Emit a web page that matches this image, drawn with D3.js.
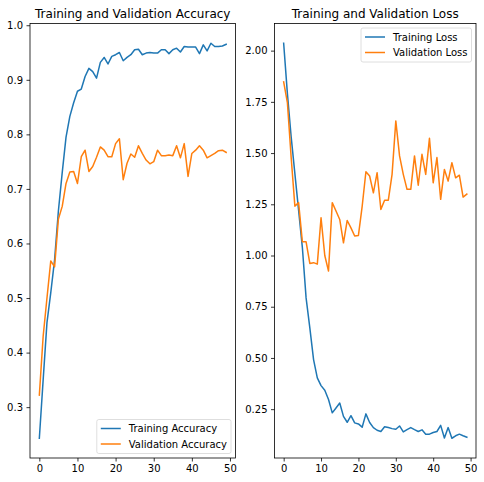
<!DOCTYPE html>
<html>
<head>
<meta charset="utf-8">
<script src="https://cdn.jsdelivr.net/npm/d3@7"></script>
<style>
  body { margin: 0; background: #fff; }
  svg text { font-family: "DejaVu Sans", sans-serif; fill: #000; }
</style>
</head>
<body>
<div id="graphicContainer"></div>
<script>

// values, one per epoch
var trainAcc = [0.243, 0.35, 0.455, 0.51, 0.57, 0.66, 0.73, 0.795, 0.833, 0.858,
  0.879, 0.883, 0.906, 0.921, 0.915, 0.903, 0.932, 0.941, 0.929, 0.943,
  0.946, 0.950, 0.935, 0.941, 0.946, 0.955, 0.956, 0.946, 0.949, 0.950,
  0.949, 0.949, 0.955, 0.955, 0.948, 0.955, 0.958, 0.951, 0.961, 0.960,
  0.960, 0.960, 0.948, 0.964, 0.953, 0.967, 0.961, 0.961, 0.962, 0.965]

var valAcc = [0.322, 0.43, 0.50, 0.568, 0.557, 0.645, 0.668, 0.71, 0.731, 0.732,
  0.71, 0.759, 0.771, 0.732, 0.741, 0.758, 0.777, 0.771, 0.759, 0.759,
  0.783, 0.792, 0.717, 0.747, 0.764, 0.758, 0.779, 0.765, 0.753, 0.746,
  0.75, 0.771, 0.761, 0.761, 0.762, 0.761, 0.779, 0.757, 0.783, 0.723,
  0.765, 0.771, 0.779, 0.771, 0.757, 0.761, 0.765, 0.77, 0.771, 0.767]

var trainLoss = [2.036, 1.79, 1.58, 1.40, 1.22, 1.04, 0.793, 0.647, 0.492, 0.403,
  0.365, 0.342, 0.297, 0.232, 0.256, 0.28, 0.215, 0.186, 0.218, 0.183,
  0.178, 0.162, 0.227, 0.185, 0.16, 0.147, 0.141, 0.164, 0.16, 0.155,
  0.152, 0.168, 0.139, 0.15, 0.16, 0.15, 0.141, 0.149, 0.128, 0.128,
  0.136, 0.141, 0.171, 0.109, 0.16, 0.108, 0.12, 0.128, 0.12, 0.113]

var valLoss = [1.847, 1.746, 1.48, 1.241, 1.258, 1.067, 1.067, 0.961, 0.965, 0.958,
  1.184, 1.0, 0.924, 1.258, 1.217, 1.176, 1.062, 1.171, 1.135, 1.095,
  1.098, 1.24, 1.409, 1.388, 1.306, 1.404, 1.225, 1.27, 1.27, 1.396,
  1.657, 1.486, 1.396, 1.323, 1.323, 1.486, 1.343, 1.494, 1.396, 1.572,
  1.355, 1.478, 1.274, 1.42, 1.363, 1.453, 1.379, 1.392, 1.285, 1.30]

var xTicks = [0, 10, 20, 30, 40, 50]
var accTicks = [0.3, 0.4, 0.5, 0.6, 0.7, 0.8, 0.9, 1.0]
var lossTicks = [0.25, 0.5, 0.75, 1.0, 1.25, 1.5, 1.75, 2.0]

var accLabels = ["Training Accuracy", "Validation Accuracy"]
var lossLabels = ["Training Loss", "Validation Loss"]
var colours = ["#1f77b4", "#ff7f0e"]

var width = 484
var height = 482
var fs = 10

var svg = d3.select("#graphicContainer").append("svg")
  .attr("width", width)
  .attr("height", height)

// matplotlib style 5% padding around the data
function padded(values) {
  var lo = d3.min(values), hi = d3.max(values)
  var p = (hi - lo) * 0.05
  return [lo - p, hi + p]
}

function panel(box, title, series, labels, yTicks, yFmt, legendPos) {

  var g = svg.append("g")

  var n = series[0].length
  var epochs = d3.range(n)

  var x = d3.scaleLinear()
    .domain(padded(epochs))
    .range([box.left, box.right])

  var y = d3.scaleLinear()
    .domain(padded(series[0].concat(series[1])))
    .range([box.bottom, box.top])

  var xAxis = d3.axisBottom(x).tickValues(xTicks).tickSize(3.5).tickPadding(3.5).tickFormat(d3.format("d"))
  var yAxis = d3.axisLeft(y).tickValues(yTicks).tickSize(3.5).tickPadding(3.5).tickFormat(d3.format(yFmt))

  g.append("g")
    .attr("transform", `translate(0,${box.bottom})`)
    .call(xAxis)
    .call(a => a.select(".domain").remove())
    .call(a => a.selectAll("line").attr("stroke", "#000").attr("stroke-width", 0.8))
    .call(a => a.selectAll("text").attr("font-size", fs))

  g.append("g")
    .attr("transform", `translate(${box.left},0)`)
    .call(yAxis)
    .call(a => a.select(".domain").remove())
    .call(a => a.selectAll("line").attr("stroke", "#000").attr("stroke-width", 0.8))
    .call(a => a.selectAll("text").attr("font-size", fs))

  var line = d3.line()
    .x((d, i) => x(i))
    .y(d => y(d))

  series.forEach(function (s, k) {
    g.append("path")
      .datum(s)
      .attr("fill", "none")
      .attr("stroke", colours[k])
      .attr("stroke-width", 1.5)
      .attr("stroke-linejoin", "round")
      .attr("stroke-linecap", "square")
      .attr("d", line)
  })

  g.append("rect")
    .attr("x", box.left)
    .attr("y", box.top)
    .attr("width", box.right - box.left)
    .attr("height", box.bottom - box.top)
    .attr("fill", "none")
    .attr("stroke", "#000")
    .attr("stroke-width", 0.8)

  g.append("text")
    .attr("x", (box.left + box.right) / 2)
    .attr("y", box.top - 6)
    .attr("text-anchor", "middle")
    .attr("font-size", 12)
    .text(title)

  // legend
  var leg = g.append("g")
  var frame = leg.append("rect")
  var texts = labels.map(function (l, k) {
    return leg.append("text")
      .attr("font-size", fs)
      .attr("dy", "0.35em")
      .text(l)
  })
  var tw = d3.max(texts, t => t.node().getComputedTextLength())
  var pad = 4, handle = 20, gap = 8, rowH = 15.5
  var bw = pad * 2 + handle + gap + tw
  var bh = 34
  var bx = box.right - 4.5 - bw
  var by = legendPos === "upper" ? box.top + 4.5 : box.bottom - 4.5 - bh

  frame
    .attr("x", bx)
    .attr("y", by)
    .attr("width", bw)
    .attr("height", bh)
    .attr("rx", 2)
    .attr("fill", "#fff")
    .attr("fill-opacity", 0.8)
    .attr("stroke", "#d6d6d6")
    .attr("stroke-width", 0.8)

  labels.forEach(function (l, k) {
    var cy = by + 9 + k * rowH
    leg.append("line")
      .attr("x1", bx + pad)
      .attr("x2", bx + pad + handle)
      .attr("y1", cy)
      .attr("y2", cy)
      .attr("stroke", colours[k])
      .attr("stroke-width", 1.5)
    texts[k]
      .attr("x", bx + pad + handle + gap)
      .attr("y", cy)
  })
}

panel({ left: 30, right: 235.5, top: 23.5, bottom: 458 },
  "Training and Validation Accuracy", [trainAcc, valAcc], accLabels, accTicks, ".1f", "lower")

panel({ left: 274.5, right: 476, top: 23.5, bottom: 458 },
  "Training and Validation Loss", [trainLoss, valLoss], lossLabels, lossTicks, ".2f", "upper")

</script>
</body>
</html>
